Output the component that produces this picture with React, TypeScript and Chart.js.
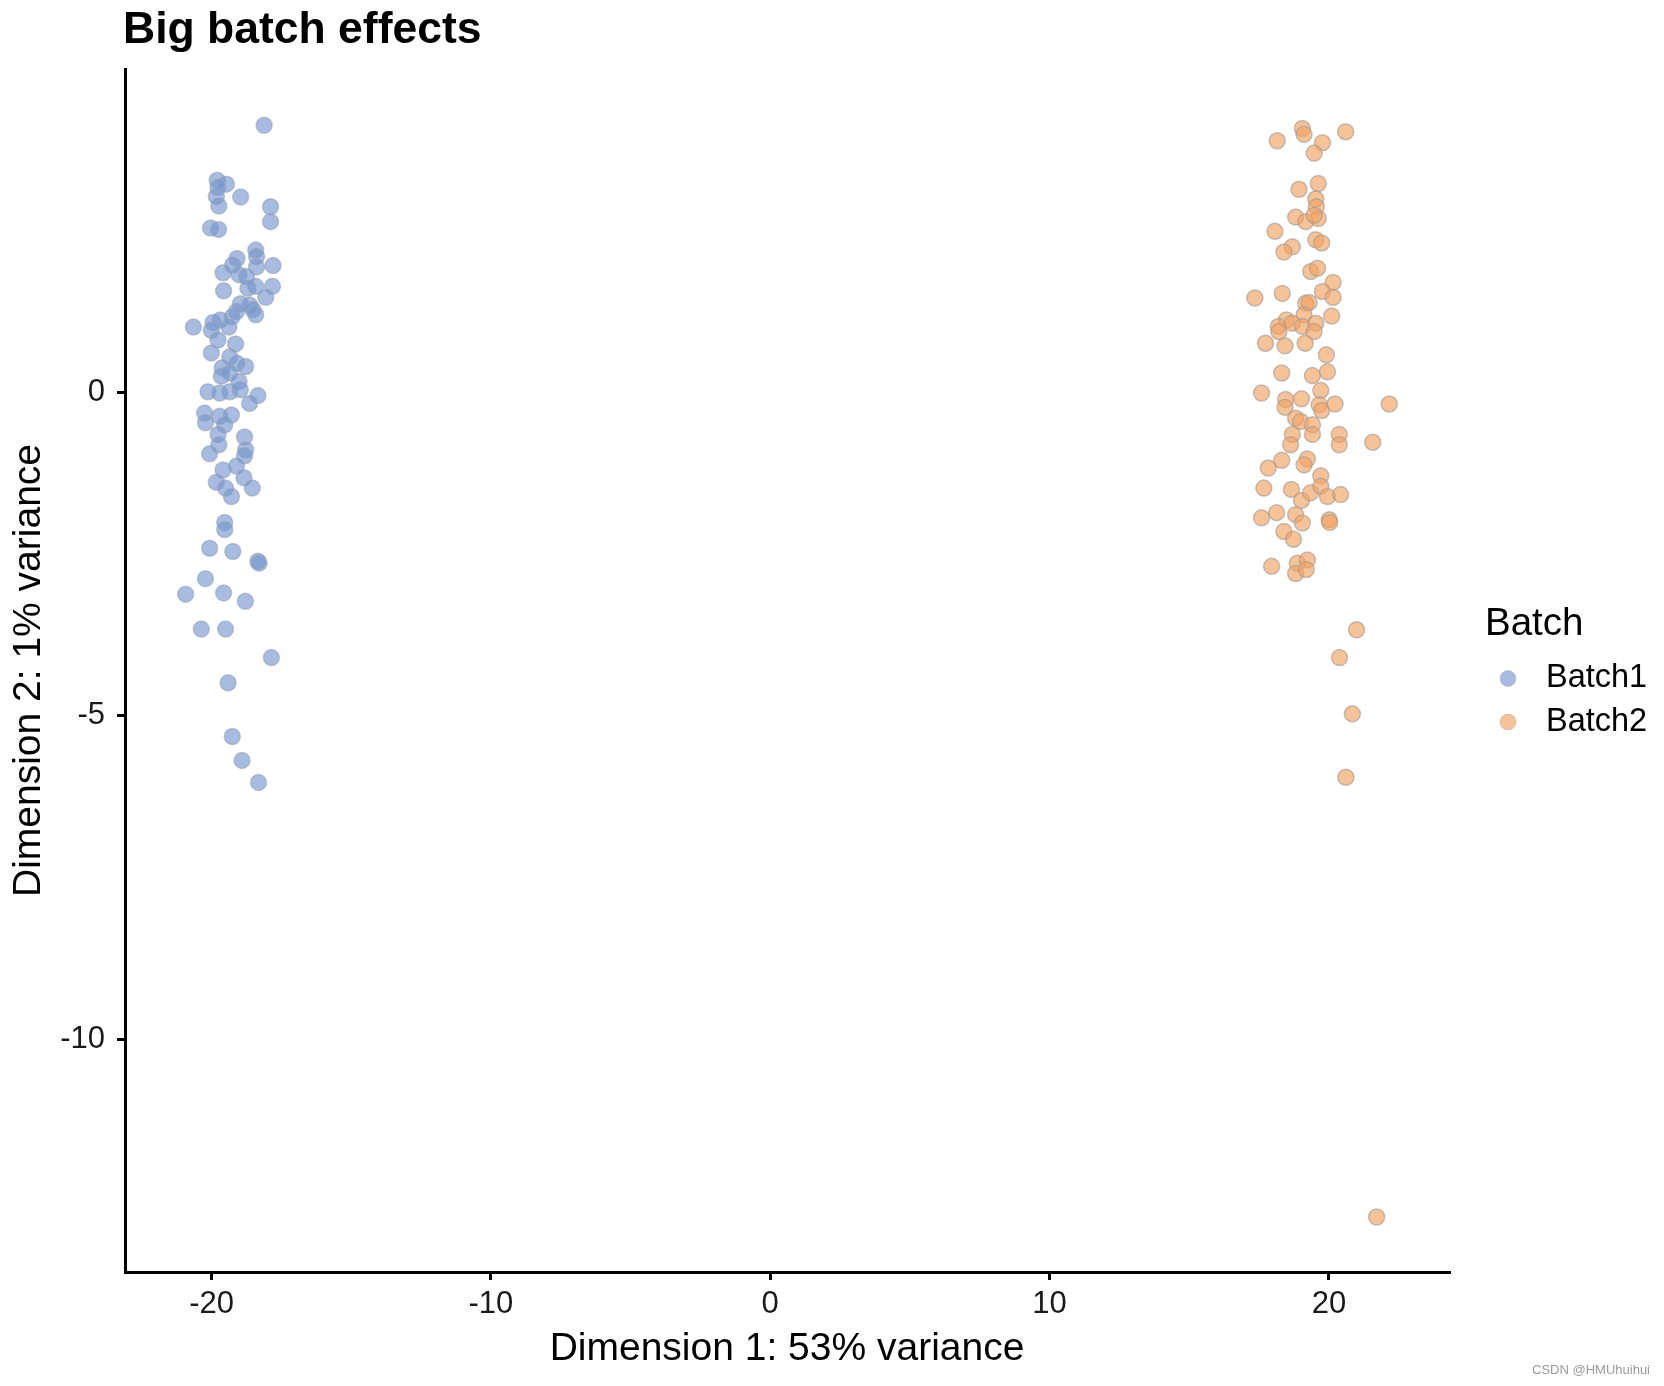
import React, { useEffect, useRef } from "react";
import { Chart, registerables } from "chart.js";

Chart.register(...registerables);

const chartTitle = "Big batch effects";
const xAxisTitle = "Dimension 1: 53% variance";
const yAxisTitle = "Dimension 2: 1% variance";
const legendTitle = "Batch";
const seriesNames = ["Batch1", "Batch2"];
const watermark = "CSDN @HMUhuihui";

const xTicks = [-20, -10, 0, 10, 20];
const yTicks = [0, -5, -10];

const batch1X = [
  -18.12, -19.80, -19.47, -19.77, -19.83, -18.96, -17.89, -19.74, -17.89, -20.04,
  -19.75, -18.42, -18.39, -19.09, -19.24, -17.80, -18.39, -19.59, -19.02, -18.75,
  -17.82, -18.70, -18.42, -19.57, -18.06, -18.97, -18.64, -18.52, -19.11, -19.26,
  -18.42, -20.65, -19.95, -19.69, -20.01, -19.38, -19.77, -19.14, -20.01, -19.35,
  -18.78, -19.62, -19.09, -19.65, -19.35, -19.02, -20.13, -19.71, -19.35, -18.97,
  -18.34, -18.64, -20.25, -19.71, -19.29, -20.22, -19.53, -19.77, -18.82, -18.78,
  -18.82, -19.74, -20.07, -19.59, -19.11, -19.83, -18.84, -19.50, -18.54, -19.29,
  -19.53, -19.53, -20.07, -19.24, -18.34, -18.30, -20.22, -20.93, -19.57, -18.79,
  -20.37, -19.50, -17.86, -19.41, -19.26, -18.91, -18.32,
];
const batch1Y = [
  4.13, 3.28, 3.22, 3.17, 3.03, 3.02, 2.87, 2.88, 2.64, 2.54,
  2.52, 2.20, 2.10, 2.07, 1.97, 1.96, 1.94, 1.85, 1.82, 1.79,
  1.64, 1.61, 1.64, 1.57, 1.47, 1.37, 1.35, 1.28, 1.25, 1.17,
  1.20, 1.01, 1.08, 1.12, 0.96, 1.01, 0.81, 0.75, 0.61, 0.55,
  0.40, 0.38, 0.45, 0.25, 0.30, 0.17, 0.01, -0.01, 0.01, 0.04,
  -0.05, -0.17, -0.32, -0.37, -0.35, -0.47, -0.50, -0.65, -0.69, -0.89,
  -0.98, -0.81, -0.95, -1.20, -1.14, -1.39, -1.32, -1.48, -1.48, -1.61,
  -2.01, -2.12, -2.41, -2.46, -2.61, -2.64, -2.88, -3.12, -3.10, -3.23,
  -3.66, -3.66, -4.10, -4.49, -5.32, -5.69, -6.03,
];

const batch2X = [
  18.15, 19.05, 19.11, 20.60, 19.77, 19.47, 18.93, 19.62, 19.53, 19.55,
  18.81, 19.17, 19.62, 19.47, 18.07, 18.69, 18.39, 19.53, 19.74, 19.35,
  19.59, 20.15, 19.77, 20.15, 17.35, 18.33, 19.17, 19.29, 19.11, 20.10,
  18.48, 18.19, 18.21, 18.69, 19.05, 19.53, 19.47, 17.73, 18.43, 19.15,
  19.91, 18.31, 19.41, 19.95, 19.71, 17.59, 18.45, 19.02, 18.43, 19.65,
  19.74, 20.22, 22.16, 18.81, 18.99, 19.41, 18.69, 19.41, 20.37, 18.63,
  20.37, 21.57, 18.31, 17.83, 19.23, 19.11, 19.71, 17.67, 18.66, 19.02,
  19.35, 19.71, 19.95, 20.42, 17.59, 18.13, 18.81, 19.05, 20.01, 20.03,
  18.39, 18.73, 17.95, 18.87, 19.23, 18.81, 19.19, 20.99, 20.38, 20.84,
  20.61, 21.71,
];
const batch2Y = [
  3.89, 4.08, 3.99, 4.03, 3.86, 3.70, 3.14, 3.23, 2.99, 2.87,
  2.71, 2.64, 2.69, 2.74, 2.49, 2.25, 2.17, 2.36, 2.31, 1.87,
  1.92, 1.70, 1.56, 1.47, 1.46, 1.53, 1.38, 1.39, 1.20, 1.18,
  1.12, 1.02, 0.94, 1.07, 1.02, 1.07, 0.94, 0.76, 0.72, 0.76,
  0.58, 0.30, 0.26, 0.32, 0.03, -0.01, -0.11, -0.10, -0.23, -0.19,
  -0.28, -0.18, -0.18, -0.40, -0.45, -0.50, -0.65, -0.65, -0.65, -0.81,
  -0.81, -0.77, -1.05, -1.17, -1.03, -1.12, -1.29, -1.48, -1.50, -1.67,
  -1.55, -1.45, -1.61, -1.58, -1.94, -1.86, -1.89, -2.02, -1.97, -2.01,
  -2.15, -2.27, -2.69, -2.64, -2.59, -2.80, -2.74, -3.67, -4.10, -4.97,
  -5.95, -12.75,
];

const FONT = "'Liberation Sans', Arial, Helvetica, sans-serif";
const blueFill = "rgba(118,150,206,0.64)";
const orangeFill = "rgba(241,162,98,0.66)";
const blueBorder = "rgba(150,160,180,0.55)";
const orangeBorder = "rgba(160,155,150,0.6)";

const overlayPlugin = {
  id: "overlayText",
  afterDraw(chart: any) {
    const { ctx, chartArea } = chart;
    const { left, right, top, bottom } = chartArea;
    ctx.save();
    // title
    ctx.fillStyle = "#000";
    ctx.font = `bold 44.5px ${FONT}`;
    ctx.textAlign = "left";
    ctx.textBaseline = "alphabetic";
    ctx.fillText(chartTitle, left - 2, top - 26);

    // legend
    const cy = (top + bottom) / 2;
    ctx.font = `38.5px ${FONT}`;
    ctx.fillText(legendTitle, right + 36, cy - 35.5);
    const fills = [blueFill, orangeFill];
    seriesNames.forEach((name, i) => {
      const y = cy + 8 + i * 43.5;
      ctx.beginPath();
      ctx.arc(right + 59, y, 8, 0, Math.PI * 2);
      ctx.fillStyle = fills[i];
      ctx.fill();
      ctx.lineWidth = 1;
      ctx.strokeStyle = "rgba(170,170,170,0.45)";
      ctx.stroke();
      ctx.fillStyle = "#000";
      ctx.font = `32.5px ${FONT}`;
      ctx.textBaseline = "middle";
      ctx.fillText(name, right + 97, y);
      ctx.textBaseline = "alphabetic";
    });

    // watermark
    ctx.font = `13px ${FONT}`;
    ctx.fillStyle = "#9a9a9a";
    ctx.textAlign = "right";
    ctx.textBaseline = "middle";
    ctx.fillText(watermark, chart.width - 14, chart.height - 16);
    ctx.restore();
  },
};

export default function App() {
  const canvasRef = useRef<HTMLCanvasElement | null>(null);

  useEffect(() => {
    if (!canvasRef.current) return;
    const toPoints = (xs: number[], ys: number[]) => xs.map((x, i) => ({ x, y: ys[i] }));
    const chart = new Chart(canvasRef.current, {
      type: "scatter",
      data: {
        datasets: [
          {
            label: seriesNames[0],
            data: toPoints(batch1X, batch1Y),
            backgroundColor: blueFill,
            borderColor: blueBorder,
            borderWidth: 1.5,
            pointRadius: 8,
          },
          {
            label: seriesNames[1],
            data: toPoints(batch2X, batch2Y),
            backgroundColor: orangeFill,
            borderColor: orangeBorder,
            borderWidth: 1.5,
            pointRadius: 8,
          },
        ],
      },
      options: {
        animation: false,
        responsive: true,
        maintainAspectRatio: false,
        devicePixelRatio: 1,
        events: [],
        layout: { padding: { top: 69, right: 215, left: 0, bottom: 0 } },
        plugins: {
          legend: { display: false },
          title: { display: false },
          tooltip: { enabled: false },
        },
        scales: {
          x: {
            type: "linear",
            min: -23.1,
            max: 24.3,
            afterBuildTicks: (s: any) => {
              s.ticks = xTicks.map((v) => ({ value: v }));
            },
            afterFit: (s: any) => {
              s.height = 114;
            },
            grid: {
              display: true,
              drawOnChartArea: false,
              drawTicks: true,
              tickLength: 8,
              tickColor: "#000",
              lineWidth: 3,
            },
            border: { display: true, color: "#000", width: 3 },
            ticks: {
              color: "#1a1a1a",
              font: { size: 31, family: FONT },
              padding: 6,
              maxRotation: 0,
              autoSkip: false,
            },
            title: {
              display: true,
              text: xAxisTitle,
              color: "#000",
              font: { size: 39, family: FONT },
              padding: { top: 0, bottom: 13 },
            },
          },
          y: {
            type: "linear",
            min: -13.6,
            max: 5.0,
            afterBuildTicks: (s: any) => {
              s.ticks = yTicks.map((v) => ({ value: v }));
            },
            afterFit: (s: any) => {
              s.width = 125;
            },
            grid: {
              display: true,
              drawOnChartArea: false,
              drawTicks: true,
              tickLength: 8,
              tickColor: "#000",
              lineWidth: 3,
            },
            border: { display: true, color: "#000", width: 3 },
            ticks: {
              color: "#1a1a1a",
              font: { size: 31, family: FONT },
              padding: 12,
              autoSkip: false,
            },
            title: {
              display: true,
              text: yAxisTitle,
              color: "#000",
              font: { size: 39, family: FONT },
              padding: { top: 6, bottom: 0 },
            },
          },
        },
      },
      plugins: [overlayPlugin],
    });
    return () => chart.destroy();
  }, []);

  return (
    <div
      style={{
        position: "fixed",
        left: 0,
        top: 0,
        width: 1664,
        height: 1386,
        background: "#fff",
      }}
    >
      <canvas ref={canvasRef} />
    </div>
  );
}
